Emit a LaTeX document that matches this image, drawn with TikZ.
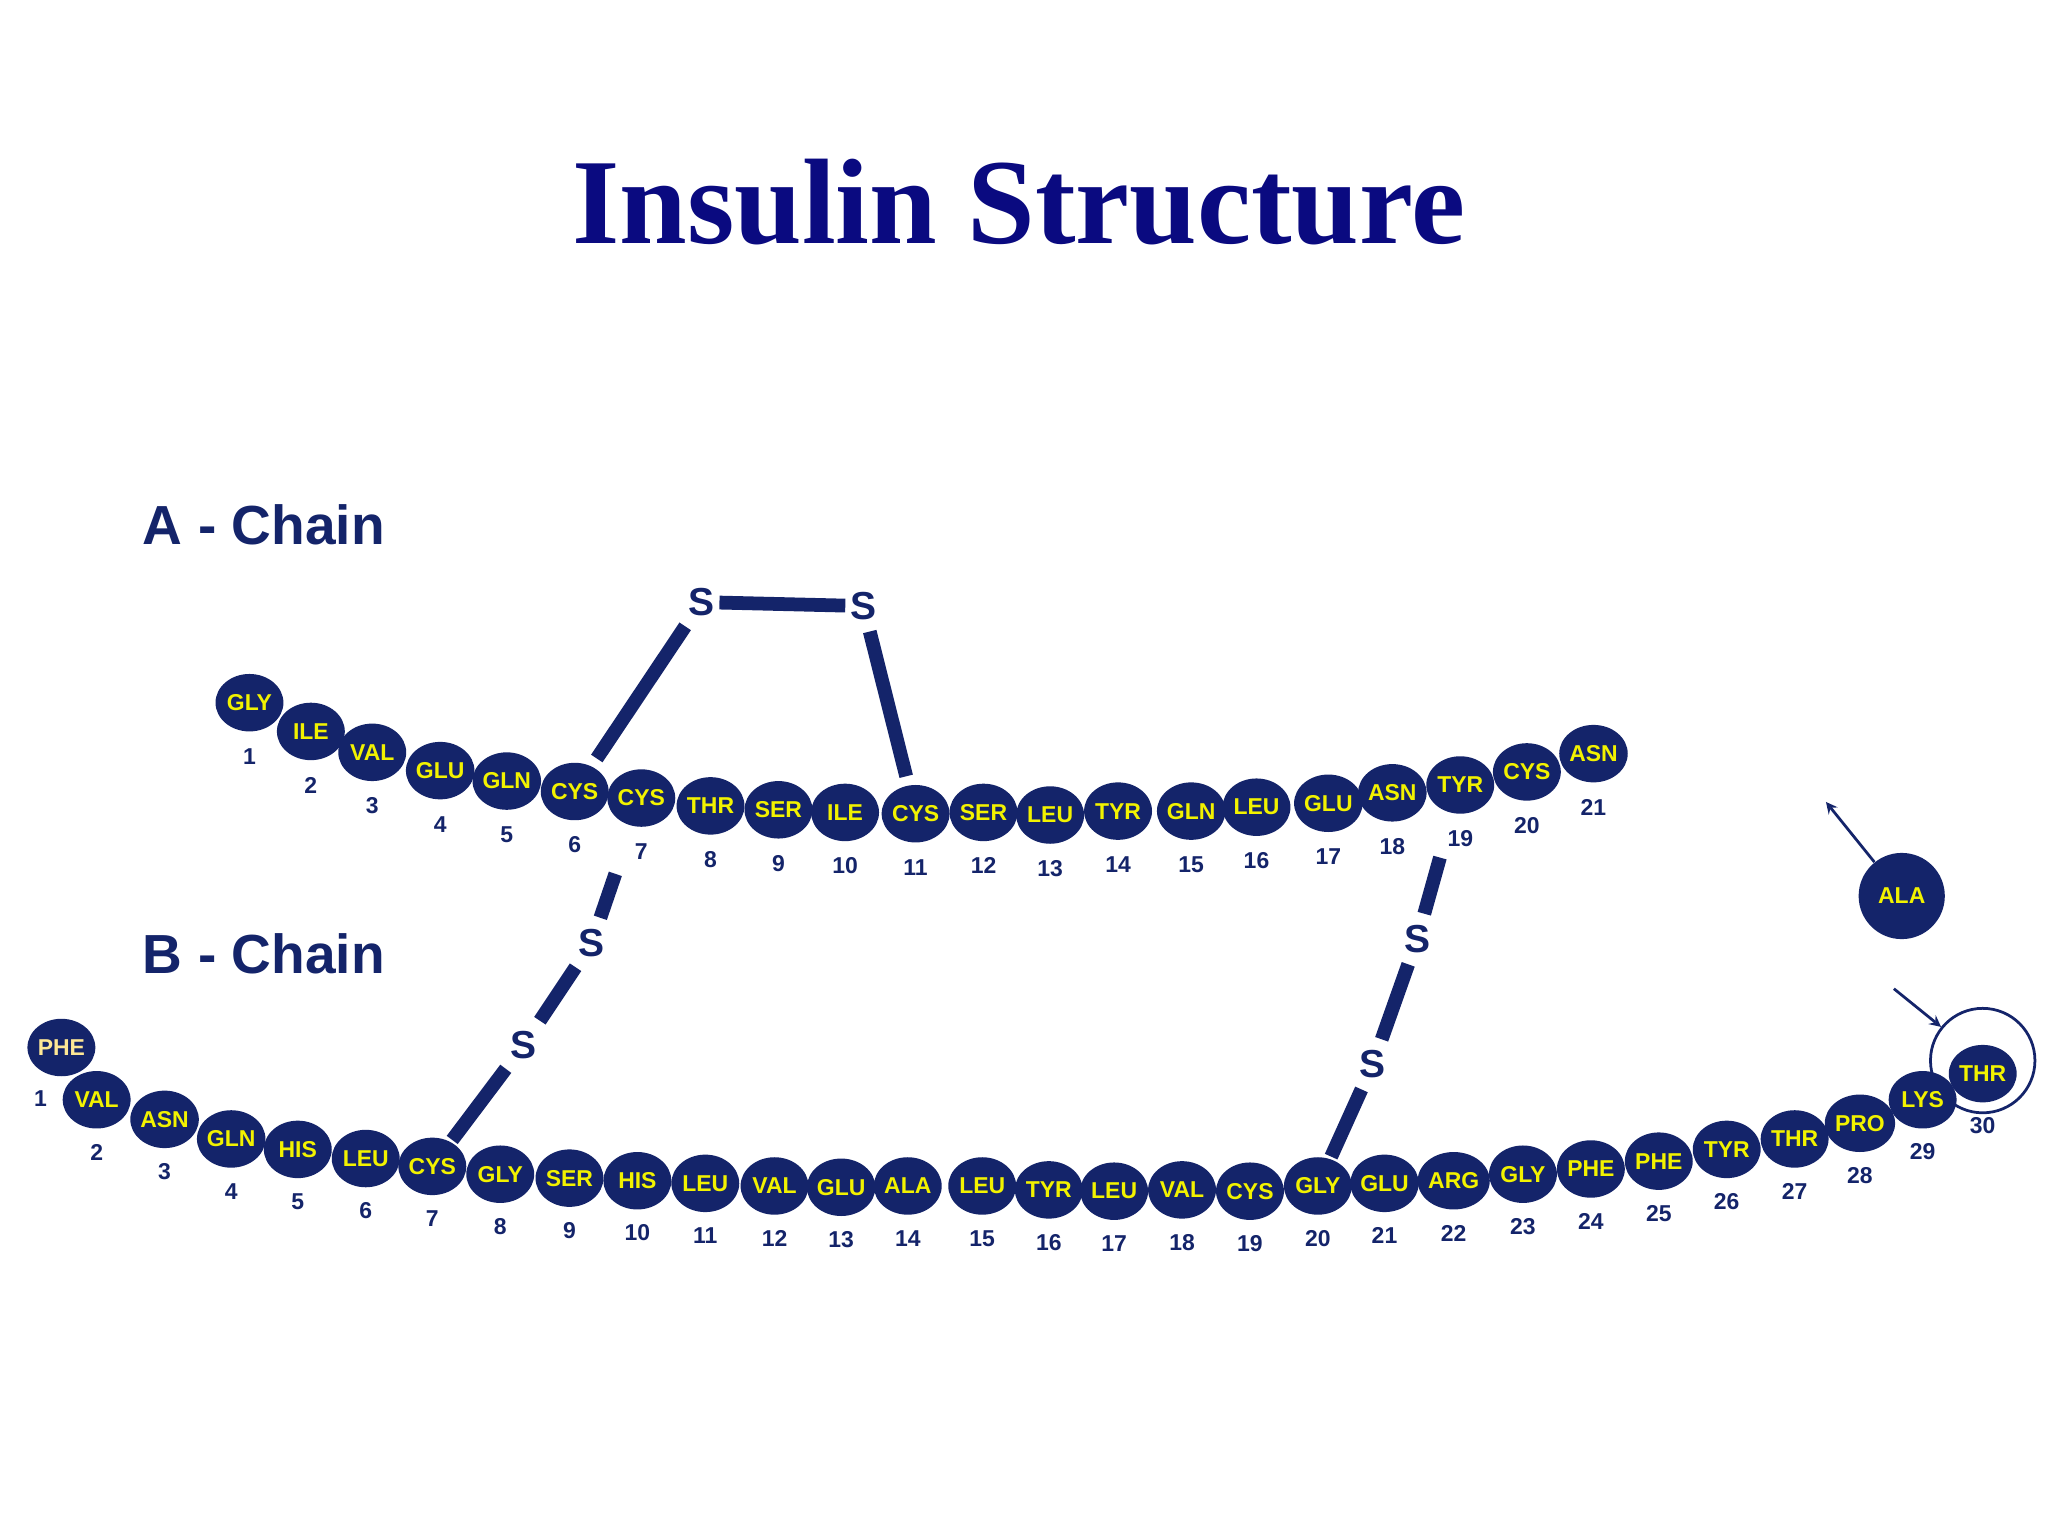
\documentclass[tikz,border=0pt]{standalone}
\usepackage{fontspec}
\setsansfont{Liberation Sans}
\setmainfont{Liberation Serif}
\usetikzlibrary{shapes.geometric, positioning, arrows}

\definecolor{navy}{HTML}{14246A}
\definecolor{titleblue}{HTML}{0A0A80}
\definecolor{aayellow}{HTML}{F2F200}

\begin{document}
\begin{tikzpicture}[x=0.02cm, y=-0.02cm,
		Residue/.style = {
			ellipse, fill=navy, minimum width=1.04cm, minimum height=0.88cm,
			inner sep=0pt, text=aayellow, font=\sffamily\bfseries\fontsize{10}{10}\selectfont
		},
		Num/.style = {text=navy, font=\sffamily\bfseries\fontsize{10}{10}\selectfont},
		Sulfur/.style = {text=navy, font=\sffamily\bfseries\fontsize{17}{17}\selectfont, inner sep=1pt},
		bond/.style = {draw=navy, line width=6pt, shorten <=4pt, shorten >=4pt},
		ChainLabel/.style = {text=navy, font=\sffamily\bfseries\fontsize{24}{24}\selectfont}
	]
	\useasboundingbox (0,0) rectangle (1568,1176);
	\fill[white] (0,0) rectangle (1568,1176);

	\node (title) [text=titleblue, font=\bfseries\fontsize{53}{53}\selectfont] at (780,155) {Insulin Structure};
	\node (alabel) [ChainLabel] at (202,402) {A - Chain};
	\node (blabel) [ChainLabel] at (202,730) {B - Chain};

	% A chain
	\foreach \n/\r/\x/\y in {1/GLY/191/538, 2/ILE/238/560, 3/VAL/285/576, 4/GLU/337/590,
			5/GLN/388/598, 6/CYS/440/606, 7/CYS/491/611, 8/THR/544/617, 9/SER/596/620,
			10/ILE/647/622, 11/CYS/701/623, 12/SER/753/622, 13/LEU/804/624, 14/TYR/856/621,
			15/GLN/912/621, 16/LEU/962/618, 17/GLU/1017/615, 18/ASN/1066/607,
			19/TYR/1118/601, 20/CYS/1169/591, 21/ASN/1220/577} {
		\node (a\n) [Residue] at (\x,\y) {\r};
		\node (an\n) [Num] at (\x,\y+41) {\n};
	}

	% B chain
	\foreach \n/\r/\x/\y in {2/VAL/74/842, 3/ASN/126/857, 4/GLN/177/872,
			5/HIS/228/880, 6/LEU/280/887, 7/CYS/331/893, 8/GLY/383/899, 9/SER/436/902,
			10/HIS/488/904, 11/LEU/540/906, 12/VAL/593/908, 13/GLU/644/909, 14/ALA/695/908,
			15/LEU/752/908, 16/TYR/803/911, 17/LEU/853/912, 18/VAL/905/911, 19/CYS/957/912,
			20/GLY/1009/908, 21/GLU/1060/906, 22/ARG/1113/904, 23/GLY/1166/899,
			24/PHE/1218/895, 25/PHE/1270/889, 26/TYR/1322/880, 27/THR/1374/872,
			28/PRO/1424/860, 29/LYS/1472/842, 30/THR/1518/822} {
		\node (b\n) [Residue] at (\x,\y) {\r};
		\node (bn\n) [Num] at (\x,\y+40) {\n};
	}
	\node (b1) [Residue, text={yellow!60!orange!40}] at (47,802) {PHE};
	\node (bn1) [Num] at (31,841) {1};

	% substitution at B30
	\node (ring) [circle, draw=navy, line width=1.2pt, minimum size=1.6cm] at (1518,812) {};
	\node (ala) [Residue, circle, minimum size=1.32cm] at (1456,686) {ALA};
	\coordinate (up) at (1398,614);
	\coordinate (down) at (1450,757);
	\draw[->, >=stealth, navy, line width=1.2pt] (ala) -- (up);
	\draw[->, >=stealth, navy, line width=1.2pt] (down) -- (ring);

	% disulfide bridges
	\node (s1) [Sulfur] at (537,461) {S};
	\node (s2) [Sulfur] at (661,464) {S};
	\node (s3) [Sulfur] at (453,722) {S};
	\node (s4) [Sulfur] at (401,800) {S};
	\node (s5) [Sulfur] at (1085,719) {S};
	\node (s6) [Sulfur] at (1051,815) {S};
	\draw[bond] (a6) -- (s1);
	\draw[bond, shorten <=1pt, shorten >=1pt] (s1) -- (s2);
	\draw[bond] (s2) -- (a11);
	\draw[bond, shorten <=22pt] (a7) -- (s3);
	\draw[bond] (s3) -- (s4);
	\draw[bond, shorten >=1pt] (s4) -- (b7);
	\draw[bond, shorten <=20pt] (a19) -- (s5);
	\draw[bond] (s5) -- (s6);
	\draw[bond, shorten >=1pt] (s6) -- (b20);
\end{tikzpicture}
\end{document}
